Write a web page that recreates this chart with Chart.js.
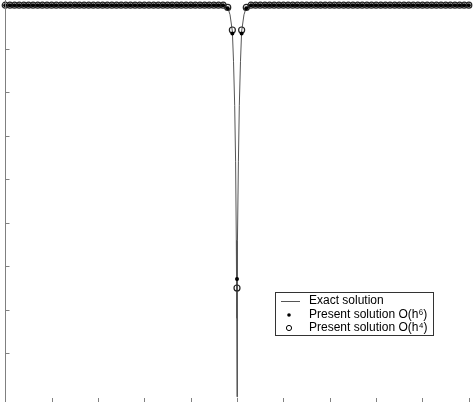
<!DOCTYPE html>
<html>
<head>
<meta charset="utf-8">
<script src="https://cdn.jsdelivr.net/npm/chart.js@4"></script>
<style>
  html, body { margin: 0; padding: 0; background: #fff; }
  #wrap { width: 474px; height: 402px; }
</style>
</head>
<body>
<div id="wrap"><canvas id="chart" width="474" height="402"></canvas></div>
<script>
// grid points x = -1 .. 1, h = 0.02
const gridX = [
  -1, -0.98, -0.96, -0.94, -0.92, -0.9, -0.88, -0.86, -0.84, -0.82,
  -0.8, -0.78, -0.76, -0.74, -0.72, -0.7, -0.68, -0.66, -0.64, -0.62,
  -0.6, -0.58, -0.56, -0.54, -0.52, -0.5, -0.48, -0.46, -0.44, -0.42,
  -0.4, -0.38, -0.36, -0.34, -0.32, -0.3, -0.28, -0.26, -0.24, -0.22,
  -0.2, -0.18, -0.16, -0.14, -0.12, -0.1, -0.08, -0.06, -0.04, -0.02,
  0,
  0.02, 0.04, 0.06, 0.08, 0.1, 0.12, 0.14, 0.16, 0.18, 0.2,
  0.22, 0.24, 0.26, 0.28, 0.3, 0.32, 0.34, 0.36, 0.38, 0.4,
  0.42, 0.44, 0.46, 0.48, 0.5, 0.52, 0.54, 0.56, 0.58, 0.6,
  0.62, 0.64, 0.66, 0.68, 0.7, 0.72, 0.74, 0.76, 0.78, 0.8,
  0.82, 0.84, 0.86, 0.88, 0.9, 0.92, 0.94, 0.96, 0.98, 1
]

// present solution O(h^6)
const solH6 = [
  1, 1, 1, 1, 1, 1, 1, 1, 1, 1,
  1, 1, 1, 1, 1, 1, 1, 1, 1, 1,
  1, 1, 1, 1, 1, 1, 1, 1, 1, 1,
  1, 1, 1, 1, 1, 1, 1, 1, 1, 1,
  1, 1, 1, 1, 1, 1, 1, 1, 0.993, 0.935,
  0.371,
  0.935, 0.993, 1, 1, 1, 1, 1, 1, 1, 1,
  1, 1, 1, 1, 1, 1, 1, 1, 1, 1,
  1, 1, 1, 1, 1, 1, 1, 1, 1, 1,
  1, 1, 1, 1, 1, 1, 1, 1, 1, 1,
  1, 1, 1, 1, 1, 1, 1, 1, 1, 1
]

// present solution O(h^4)
const solH4 = [
  1, 1, 1, 1, 1, 1, 1, 1, 1, 1,
  1, 1, 1, 1, 1, 1, 1, 1, 1, 1,
  1, 1, 1, 1, 1, 1, 1, 1, 1, 1,
  1, 1, 1, 1, 1, 1, 1, 1, 1, 1,
  1, 1, 1, 1, 1, 1, 1, 1, 0.995, 0.943,
  0.350,
  0.943, 0.995, 1, 1, 1, 1, 1, 1, 1, 1,
  1, 1, 1, 1, 1, 1, 1, 1, 1, 1,
  1, 1, 1, 1, 1, 1, 1, 1, 1, 1,
  1, 1, 1, 1, 1, 1, 1, 1, 1, 1,
  1, 1, 1, 1, 1, 1, 1, 1, 1, 1
]

// exact solution, sampled finer near the layer
const exactX = [-1, -0.06, -0.04, -0.03, -0.02, -0.015, -0.01, -0.006, -0.003, -0.001, 0,
                0.001, 0.003, 0.006, 0.01, 0.015, 0.02, 0.03, 0.04, 0.06, 1]
const exactY = [1, 1, 0.995, 0.978, 0.940, 0.87, 0.77, 0.64, 0.46, 0.28, 0.1,
                0.28, 0.46, 0.64, 0.77, 0.87, 0.940, 0.978, 0.995, 1, 1]

const xTicks = [-1, -0.8, -0.6, -0.4, -0.2, 0, 0.2, 0.4, 0.6, 0.8, 1]
const yTicks = [0.2, 0.3, 0.4, 0.5, 0.6, 0.7, 0.8, 0.9]

const legendItems = ['Exact solution', 'Present solution O(h\u2076)', 'Present solution O(h\u2074)']

const toPts = (xs, ys) => xs.map((x, i) => ({ x: x, y: ys[i] }))

// axis line and inward tick marks, matlab style
const axisPlugin = {
  id: 'axisTicks',
  afterDraw(chart) {
    const ctx = chart.ctx
    const xs = chart.scales.x
    const ys = chart.scales.y
    const left = Math.round(xs.getPixelForValue(-1)) + 0.5
    ctx.save()
    ctx.strokeStyle = '#808080'
    ctx.lineWidth = 1
    ctx.beginPath()
    ctx.moveTo(left, 0)
    ctx.lineTo(left, chart.height)
    yTicks.forEach(v => {
      const py = Math.round(ys.getPixelForValue(v)) + 0.5
      ctx.moveTo(left, py)
      ctx.lineTo(left + 4, py)
    })
    const bottom = chart.height
    xTicks.forEach(v => {
      const px = Math.round(xs.getPixelForValue(v)) + 0.5
      ctx.moveTo(px, bottom)
      ctx.lineTo(px, bottom - 4)
    })
    ctx.stroke()
    ctx.restore()
  }
}

// boxed legend in the lower right
const legendPlugin = {
  id: 'boxLegend',
  afterDraw(chart) {
    const ctx = chart.ctx
    const bx = 275.5, by = 292.5, bw = 158, bh = 43
    ctx.save()
    ctx.fillStyle = '#fff'
    ctx.fillRect(bx, by, bw, bh)
    ctx.strokeStyle = '#333'
    ctx.lineWidth = 1
    ctx.strokeRect(bx, by, bw, bh)

    const rows = [301, 315, 328]
    // line sample
    ctx.strokeStyle = '#555'
    ctx.beginPath()
    ctx.moveTo(281, rows[0] + 0.5)
    ctx.lineTo(300, rows[0] + 0.5)
    ctx.stroke()
    // filled dot
    ctx.fillStyle = '#000'
    ctx.beginPath()
    ctx.arc(289, rows[1], 1.8, 0, Math.PI * 2)
    ctx.fill()
    // open circle
    ctx.strokeStyle = '#000'
    ctx.beginPath()
    ctx.arc(289, rows[2], 2.6, 0, Math.PI * 2)
    ctx.stroke()

    ctx.fillStyle = '#000'
    ctx.font = '12px "Liberation Sans", Arial, sans-serif'
    ctx.textBaseline = 'middle'
    legendItems.forEach((t, i) => ctx.fillText(t, 309, rows[i]))
    ctx.restore()
  }
}

new Chart(document.getElementById('chart'), {
  type: 'scatter',
  data: {
    datasets: [
      {
        label: legendItems[0],
        data: toPts(exactX, exactY),
        showLine: true,
        borderColor: '#555',
        borderWidth: 1,
        pointRadius: 0,
        clip: false,
        order: 3
      },
      {
        label: legendItems[2],
        data: toPts(gridX, solH4),
        showLine: false,
        pointStyle: 'circle',
        pointRadius: 3,
        pointBorderWidth: 1.2,
        pointBorderColor: '#222',
        pointBackgroundColor: 'rgba(255,255,255,0)',
        clip: false,
        order: 2
      },
      {
        label: legendItems[1],
        data: toPts(gridX, solH6),
        showLine: false,
        pointStyle: 'circle',
        pointRadius: 2,
        pointBorderWidth: 0,
        pointBackgroundColor: '#000',
        clip: false,
        order: 1
      }
    ]
  },
  options: {
    responsive: false,
    animation: false,
    events: [],
    layout: { padding: { left: 3, right: 4, top: 3, bottom: 0 } },
    plugins: {
      legend: { display: false },
      tooltip: { enabled: false }
    },
    scales: {
      x: { type: 'linear', min: -1, max: 1, display: false },
      y: { type: 'linear', min: 0.1, max: 1, display: false }
    }
  },
  plugins: [axisPlugin, legendPlugin]
})
</script>
</body>
</html>
